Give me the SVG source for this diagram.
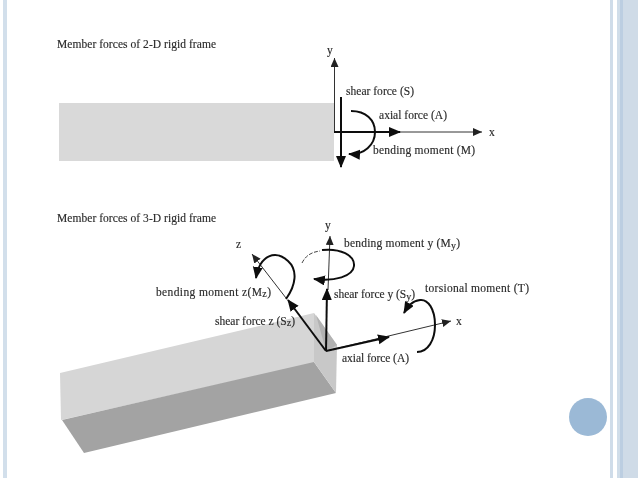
<svg xmlns="http://www.w3.org/2000/svg" width="638" height="478" viewBox="0 0 638 478">
<style>
text{font-family:"Liberation Serif","Times New Roman",serif;font-size:11.5px;fill:#2a2a2a;stroke:#2a2a2a;stroke-width:.15}
.thin{fill:none;stroke:#333;stroke-width:1}
.thick{fill:none;stroke:#111;stroke-width:2}
</style>
<defs>
<marker id="big" markerUnits="userSpaceOnUse" markerWidth="14" markerHeight="12" refX="11" refY="5" orient="auto"><path d="M0 0L12 5L0 10z" fill="#111"/></marker>
<marker id="small" markerUnits="userSpaceOnUse" markerWidth="11" markerHeight="10" refX="9" refY="4" orient="auto"><path d="M0 0L9 4L0 8z" fill="#222"/></marker>
<filter id="soft" x="-5%" y="-5%" width="110%" height="110%"><feGaussianBlur stdDeviation="0.3"/></filter>
</defs>
<rect width="638" height="478" fill="#fff"/>
<g id="frame">
<rect x="3" y="0" width="4" height="478" fill="#d2dfeb"/>
<rect x="610" y="0" width="3" height="478" fill="#cfdce9"/>
<rect x="617" y="0" width="3" height="478" fill="#d0dde9"/>
<rect x="620" y="0" width="3" height="478" fill="#bccee1"/>
<rect x="623" y="0" width="15" height="478" fill="#cfdbe7"/>
<circle cx="588" cy="417" r="19" fill="#9bb9d6"/>
</g>
<g id="beam-2d"><rect x="59" y="103" width="275" height="58" fill="#d9d9d9"/></g>
<g id="beam-3d">
<path d="M60 373L314 313V363L61 420z" fill="#d6d6d6"/>
<path d="M62 420L314 362L336 393L84 453z" fill="#a3a3a3"/>
<path d="M314 313L337 345L336 393L314 362z" fill="#c8c8c8"/>
<path d="M316 315L337 345L326 351z" fill="#b2b2b2"/>
</g>
<g id="connectors" filter="url(#soft)">
<path class="thin" d="M334.500 133V58" marker-end="url(#small)"/>
<path class="thin" d="M334 132H482" marker-end="url(#small)"/>
<path class="thick" d="M341 97V167" marker-end="url(#big)"/>
<path class="thick" d="M334 132H400" marker-end="url(#big)"/>
<path class="thick" d="M351 111C366 111 375 120 375 132C375 145 364 155 349 154" marker-end="url(#big)"/>

<path class="thin" d="M328 290L330 236" marker-end="url(#small)"/>
<path class="thick" d="M326 351L327 289" marker-end="url(#big)"/>
<path class="thin" d="M326 351L451 321" marker-end="url(#small)"/>
<path class="thick" d="M326 351L389 337" marker-end="url(#big)"/>
<path class="thick" d="M326 351L288 300" marker-end="url(#big)"/>
<path class="thin" d="M286 298L252 254" marker-end="url(#small)"/>
<path class="thick" d="M286 299C296 285 298 270 288 261C276 250 260 254 256 278" marker-end="url(#big)"/>
<path class="thick" d="M322 250C340 248 355 255 354 266C353 276 335 282 314 279" marker-end="url(#big)"/>
<path d="M302 263C306 255 312 252 320 251" fill="none" stroke="#444" stroke-width="1" stroke-dasharray="4 1.500"/>
<path class="thick" d="M417 352C428 352 435 340 435 325C435 309 428 299 420 300C412 301 408 306 404 313" marker-end="url(#big)"/>
</g>
<g id="labels" filter="url(#soft)">
<text x="57" y="48" textLength="159">Member forces of 2-D rigid frame</text>
<text x="327" y="54">y</text>
<text x="346" y="95" textLength="68">shear force (S)</text>
<text x="379" y="119" textLength="68">axial force (A)</text>
<text x="489" y="136">x</text>
<text x="373" y="154" textLength="102">bending moment (M)</text>
<text x="57" y="222" textLength="159">Member forces of 3-D rigid frame</text>
<text x="325" y="229">y</text>
<text x="236" y="248">z</text>
<text x="344" y="247" textLength="116">bending moment y (M<tspan font-size="10" dy="2">y</tspan><tspan dy="-2">)</tspan></text>
<text x="156" y="296" textLength="115">bending moment  z(M<tspan font-size="10" dy="1">z</tspan><tspan dy="-1">)</tspan></text>
<text x="334" y="298" textLength="81">shear force y (S<tspan font-size="10" dy="2">y</tspan><tspan dy="-2">)</tspan></text>
<text x="425" y="292" textLength="104">torsional  moment (T)</text>
<text x="215" y="325" textLength="80">shear force z (S<tspan font-size="10" dy="1">z</tspan><tspan dy="-1">)</tspan></text>
<text x="456" y="325">x</text>
<text x="342" y="362" textLength="67">axial force (A)</text>
</g>
</svg>
